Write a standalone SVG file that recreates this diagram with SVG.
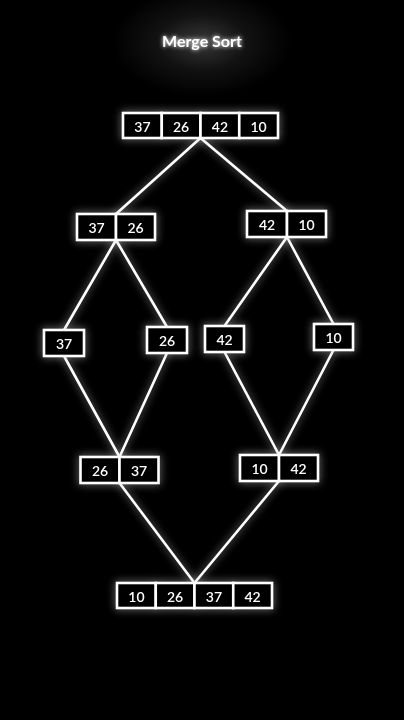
<svg xmlns="http://www.w3.org/2000/svg" width="404" height="720" viewBox="0 0 404 720">
<defs>
<radialGradient id="tg" cx="0.5" cy="0.5" r="0.5">
<stop offset="0" stop-color="#ffffff" stop-opacity="0.22"/>
<stop offset="0.5" stop-color="#ffffff" stop-opacity="0.07"/>
<stop offset="1" stop-color="#ffffff" stop-opacity="0"/>
</radialGradient>
<filter id="glow" x="-50%" y="-50%" width="200%" height="200%">
<feGaussianBlur in="SourceGraphic" stdDeviation="4" result="b"/>
<feComponentTransfer in="b" result="b2"><feFuncA type="linear" slope="0.6"/></feComponentTransfer>
<feMerge><feMergeNode in="b2"/><feMergeNode in="SourceGraphic"/></feMerge>
</filter>
<filter id="tglow" x="-50%" y="-50%" width="200%" height="200%">
<feGaussianBlur in="SourceGraphic" stdDeviation="2" result="b"/>
<feMerge><feMergeNode in="b"/><feMergeNode in="SourceGraphic"/></feMerge>
</filter>
</defs>
<style>
.c{fill:#000;stroke:#fff;stroke-width:2.6}
.t{fill:#fff;font-family:Lato,"Noto Sans",sans-serif;font-size:14px;font-weight:600;text-anchor:middle;dominant-baseline:central}
.e{stroke:#fff;stroke-width:2.6;fill:none;stroke-linecap:round}
.title{fill:#fff;font-family:Lato,"Noto Sans",sans-serif;font-size:16px;font-weight:700;text-anchor:middle}
</style>
<rect width="404" height="720" fill="#000"/>
<ellipse cx="202" cy="42" rx="90" ry="55" fill="url(#tg)"/>
<text class="title" x="202" y="47" filter="url(#tglow)">Merge Sort</text>

<g id="connectors" filter="url(#glow)">
<line class="e" x1="200.5" y1="138" x2="116" y2="214"/>
<line class="e" x1="200.5" y1="138" x2="287" y2="211"/>
<line class="e" x1="116" y1="240" x2="64" y2="330"/>
<line class="e" x1="116" y1="240" x2="167" y2="327"/>
<line class="e" x1="287" y1="237" x2="224.5" y2="326"/>
<line class="e" x1="287" y1="237" x2="333.5" y2="324"/>
<line class="e" x1="64" y1="356" x2="119.5" y2="457"/>
<line class="e" x1="167" y1="353" x2="119.5" y2="457"/>
<line class="e" x1="224.5" y1="352" x2="279" y2="455"/>
<line class="e" x1="333.5" y1="350" x2="279" y2="455"/>
<line class="e" x1="119.5" y1="483" x2="194.5" y2="583"/>
<line class="e" x1="279" y1="481" x2="194.5" y2="583"/>
</g>

<g id="n-top" filter="url(#glow)">
<rect class="c" x="123" y="113" width="38.75" height="25"/>
<rect class="c" x="161.75" y="113" width="38.75" height="25"/>
<rect class="c" x="200.5" y="113" width="38.75" height="25"/>
<rect class="c" x="239.25" y="113" width="38.75" height="25"/>
<text class="t" x="142.4" y="126">37</text>
<text class="t" x="181.1" y="126">26</text>
<text class="t" x="219.9" y="126">42</text>
<text class="t" x="258.6" y="126">10</text>
</g>

<g id="n-l2" filter="url(#glow)">
<rect class="c" x="77" y="214" width="39" height="26"/>
<rect class="c" x="116" y="214" width="39" height="26"/>
<text class="t" x="96.5" y="227.5">37</text>
<text class="t" x="135.5" y="227.5">26</text>
</g>

<g id="n-r2" filter="url(#glow)">
<rect class="c" x="247" y="211" width="40" height="26"/>
<rect class="c" x="287" y="211" width="39" height="26"/>
<text class="t" x="267" y="224.5">42</text>
<text class="t" x="306.5" y="224.5">10</text>
</g>

<g id="n-37" filter="url(#glow)">
<rect class="c" x="44" y="330" width="40" height="26"/>
<text class="t" x="64" y="343.5">37</text>
</g>
<g id="n-26" filter="url(#glow)">
<rect class="c" x="147" y="327" width="40" height="26"/>
<text class="t" x="167" y="340.5">26</text>
</g>
<g id="n-42" filter="url(#glow)">
<rect class="c" x="205" y="326" width="39" height="26"/>
<text class="t" x="224.5" y="339.5">42</text>
</g>
<g id="n-10" filter="url(#glow)">
<rect class="c" x="314" y="324" width="39" height="26"/>
<text class="t" x="333.5" y="337.5">10</text>
</g>

<g id="n-l4" filter="url(#glow)">
<rect class="c" x="80.5" y="457" width="39" height="26"/>
<rect class="c" x="119.5" y="457" width="39" height="26"/>
<text class="t" x="100" y="470.5">26</text>
<text class="t" x="139" y="470.5">37</text>
</g>

<g id="n-r4" filter="url(#glow)">
<rect class="c" x="240" y="455" width="39" height="26"/>
<rect class="c" x="279" y="455" width="39" height="26"/>
<text class="t" x="259.5" y="468.5">10</text>
<text class="t" x="298.5" y="468.5">42</text>
</g>

<g id="n-bottom" filter="url(#glow)">
<rect class="c" x="117" y="583" width="38.75" height="25"/>
<rect class="c" x="155.75" y="583" width="38.75" height="25"/>
<rect class="c" x="194.5" y="583" width="38.75" height="25"/>
<rect class="c" x="233.25" y="583" width="38.75" height="25"/>
<text class="t" x="136.4" y="596">10</text>
<text class="t" x="175.1" y="596">26</text>
<text class="t" x="213.9" y="596">37</text>
<text class="t" x="252.6" y="596">42</text>
</g>
</svg>
